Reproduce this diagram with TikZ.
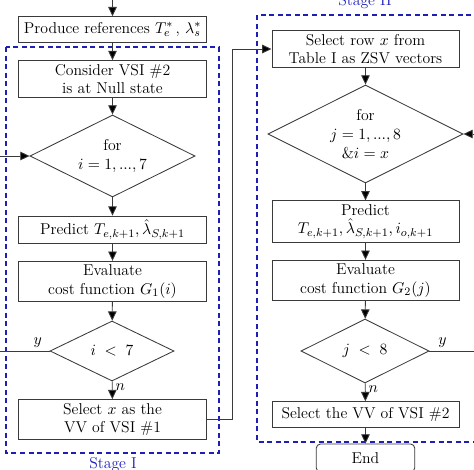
\documentclass[tikz,border=0pt]{standalone}
\usepackage{amsmath,amssymb}
\usetikzlibrary{arrows.meta,shapes.geometric,positioning}
\definecolor{edge}{HTML}{3A3A3A}
\definecolor{stageblue}{HTML}{1F1FB8}
\tikzset{procbox/.style={draw=edge,line width=.6pt,minimum width=131pt,minimum height=18pt,align=center,inner sep=2.5pt},
decbox/.style={draw=edge,line width=.6pt,diamond,aspect=2,inner sep=0pt,align=center},
endbox/.style={draw=edge,line width=.6pt,rounded corners=3pt,minimum width=69pt,minimum height=19.6pt},
flowarrow/.style={draw=edge,line width=.6pt,-{Triangle[length=6.5pt,width=6pt,fill=black]}},
stageframe/.style={draw=stageblue,line width=.9pt,dash pattern=on 3.5pt off 2.5pt},
stagetext/.style={text=stageblue,inner sep=1pt},
branch/.style={inner sep=2pt}}
\begin{document}
\begin{tikzpicture}[x=.7pt,y=-.7pt,font=\fontsize{11}{13}\selectfont]
\useasboundingbox (0,0) rectangle (474,470);
% stage frames
\draw[stageframe] (6,47) rectangle (219,453);
\draw[stageframe] (257,15) rectangle (490,442);
\node[stagetext] (stageI) at (113,465) {Stage I};
\node[stagetext] (stageII) at (365,2) {Stage II};
% stage I
\node[procbox] (produce) at (112.5,29.5) {Produce references $T_e^*$\,, $\lambda_s^*$};
\node[procbox] (consider) at (112.5,79) {Consider VSI \#2\\is at Null state};
\node[decbox,minimum width=115.5pt,minimum height=57.4pt] (fori) at (112.5,156) {for\\$i=1,...,7$};
\node[procbox] (predI) at (112.5,229.5) {Predict $T_{e,k+1},\hat{\lambda}_{S,k+1}$};
\node[procbox] (evalI) at (112.5,281.5) {Evaluate\\cost function $G_1(i)$};
\node[decbox,minimum width=86.8pt,minimum height=42pt] (cmpI) at (112,351) {$i\;<\;7$};
\node[procbox] (selx) at (112.5,419.5) {Select $x$ as the\\VV of VSI \#1};
% stage II
\node[procbox] (selrow) at (365.5,49) {Select row $x$ from\\Table I as ZSV vectors};
\node[decbox,minimum width=136.5pt,minimum height=68.6pt] (forj) at (365.5,134) {for\\$j=1,...,8$\\$\&i=x$};
\node[procbox] (predII) at (365.5,221.5) {Predict\\$T_{e,k+1},\hat{\lambda}_{S,k+1},i_{o,k+1}$};
\node[procbox] (evalII) at (365.5,280.5) {Evaluate\\cost function $G_2(j)$};
\node[decbox,minimum width=89.6pt,minimum height=44.8pt] (cmpII) at (365,351) {$j\;<\;8$};
\node[procbox] (selvv) at (365.5,414.5) {Select the VV of VSI \#2};
\node[endbox] (finish) at (365.5,458) {End};
% helpers
\coordinate (start) at (112.5,-10);
\coordinate (lx) at (-10,0);
\coordinate (jx) at (232,0);
\coordinate (rx) at (484,0);
% connectors
\draw[flowarrow] (start) -- (produce);
\draw[flowarrow] (produce) -- (consider);
\draw[flowarrow] (consider) -- (fori);
\draw[flowarrow] (fori) -- (predI);
\draw[flowarrow] (predI) -- (evalI);
\draw[flowarrow] (evalI) -- (cmpI);
\draw[flowarrow] (cmpI) -- node[branch,right,pos=.3] {$n$} (selx);
\draw[flowarrow] (cmpI.west) -- node[branch,above,pos=.2] {$y$} (cmpI.west -| lx) |- (fori.west);
\draw[flowarrow] (selx.east) -- (selx.east -| jx) |- (selrow.west);
\draw[flowarrow] (selrow) -- (forj);
\draw[flowarrow] (forj) -- (predII);
\draw[flowarrow] (predII) -- (evalII);
\draw[flowarrow] (evalII) -- (cmpII);
\draw[flowarrow] (cmpII) -- node[branch,right,pos=.3] {$n$} (selvv);
\draw[flowarrow] (cmpII.east) -- node[branch,above,pos=.24] {$y$} (cmpII.east -| rx) |- (forj.east);
\draw[flowarrow] (selvv) -- (finish);
\end{tikzpicture}
\end{document}
